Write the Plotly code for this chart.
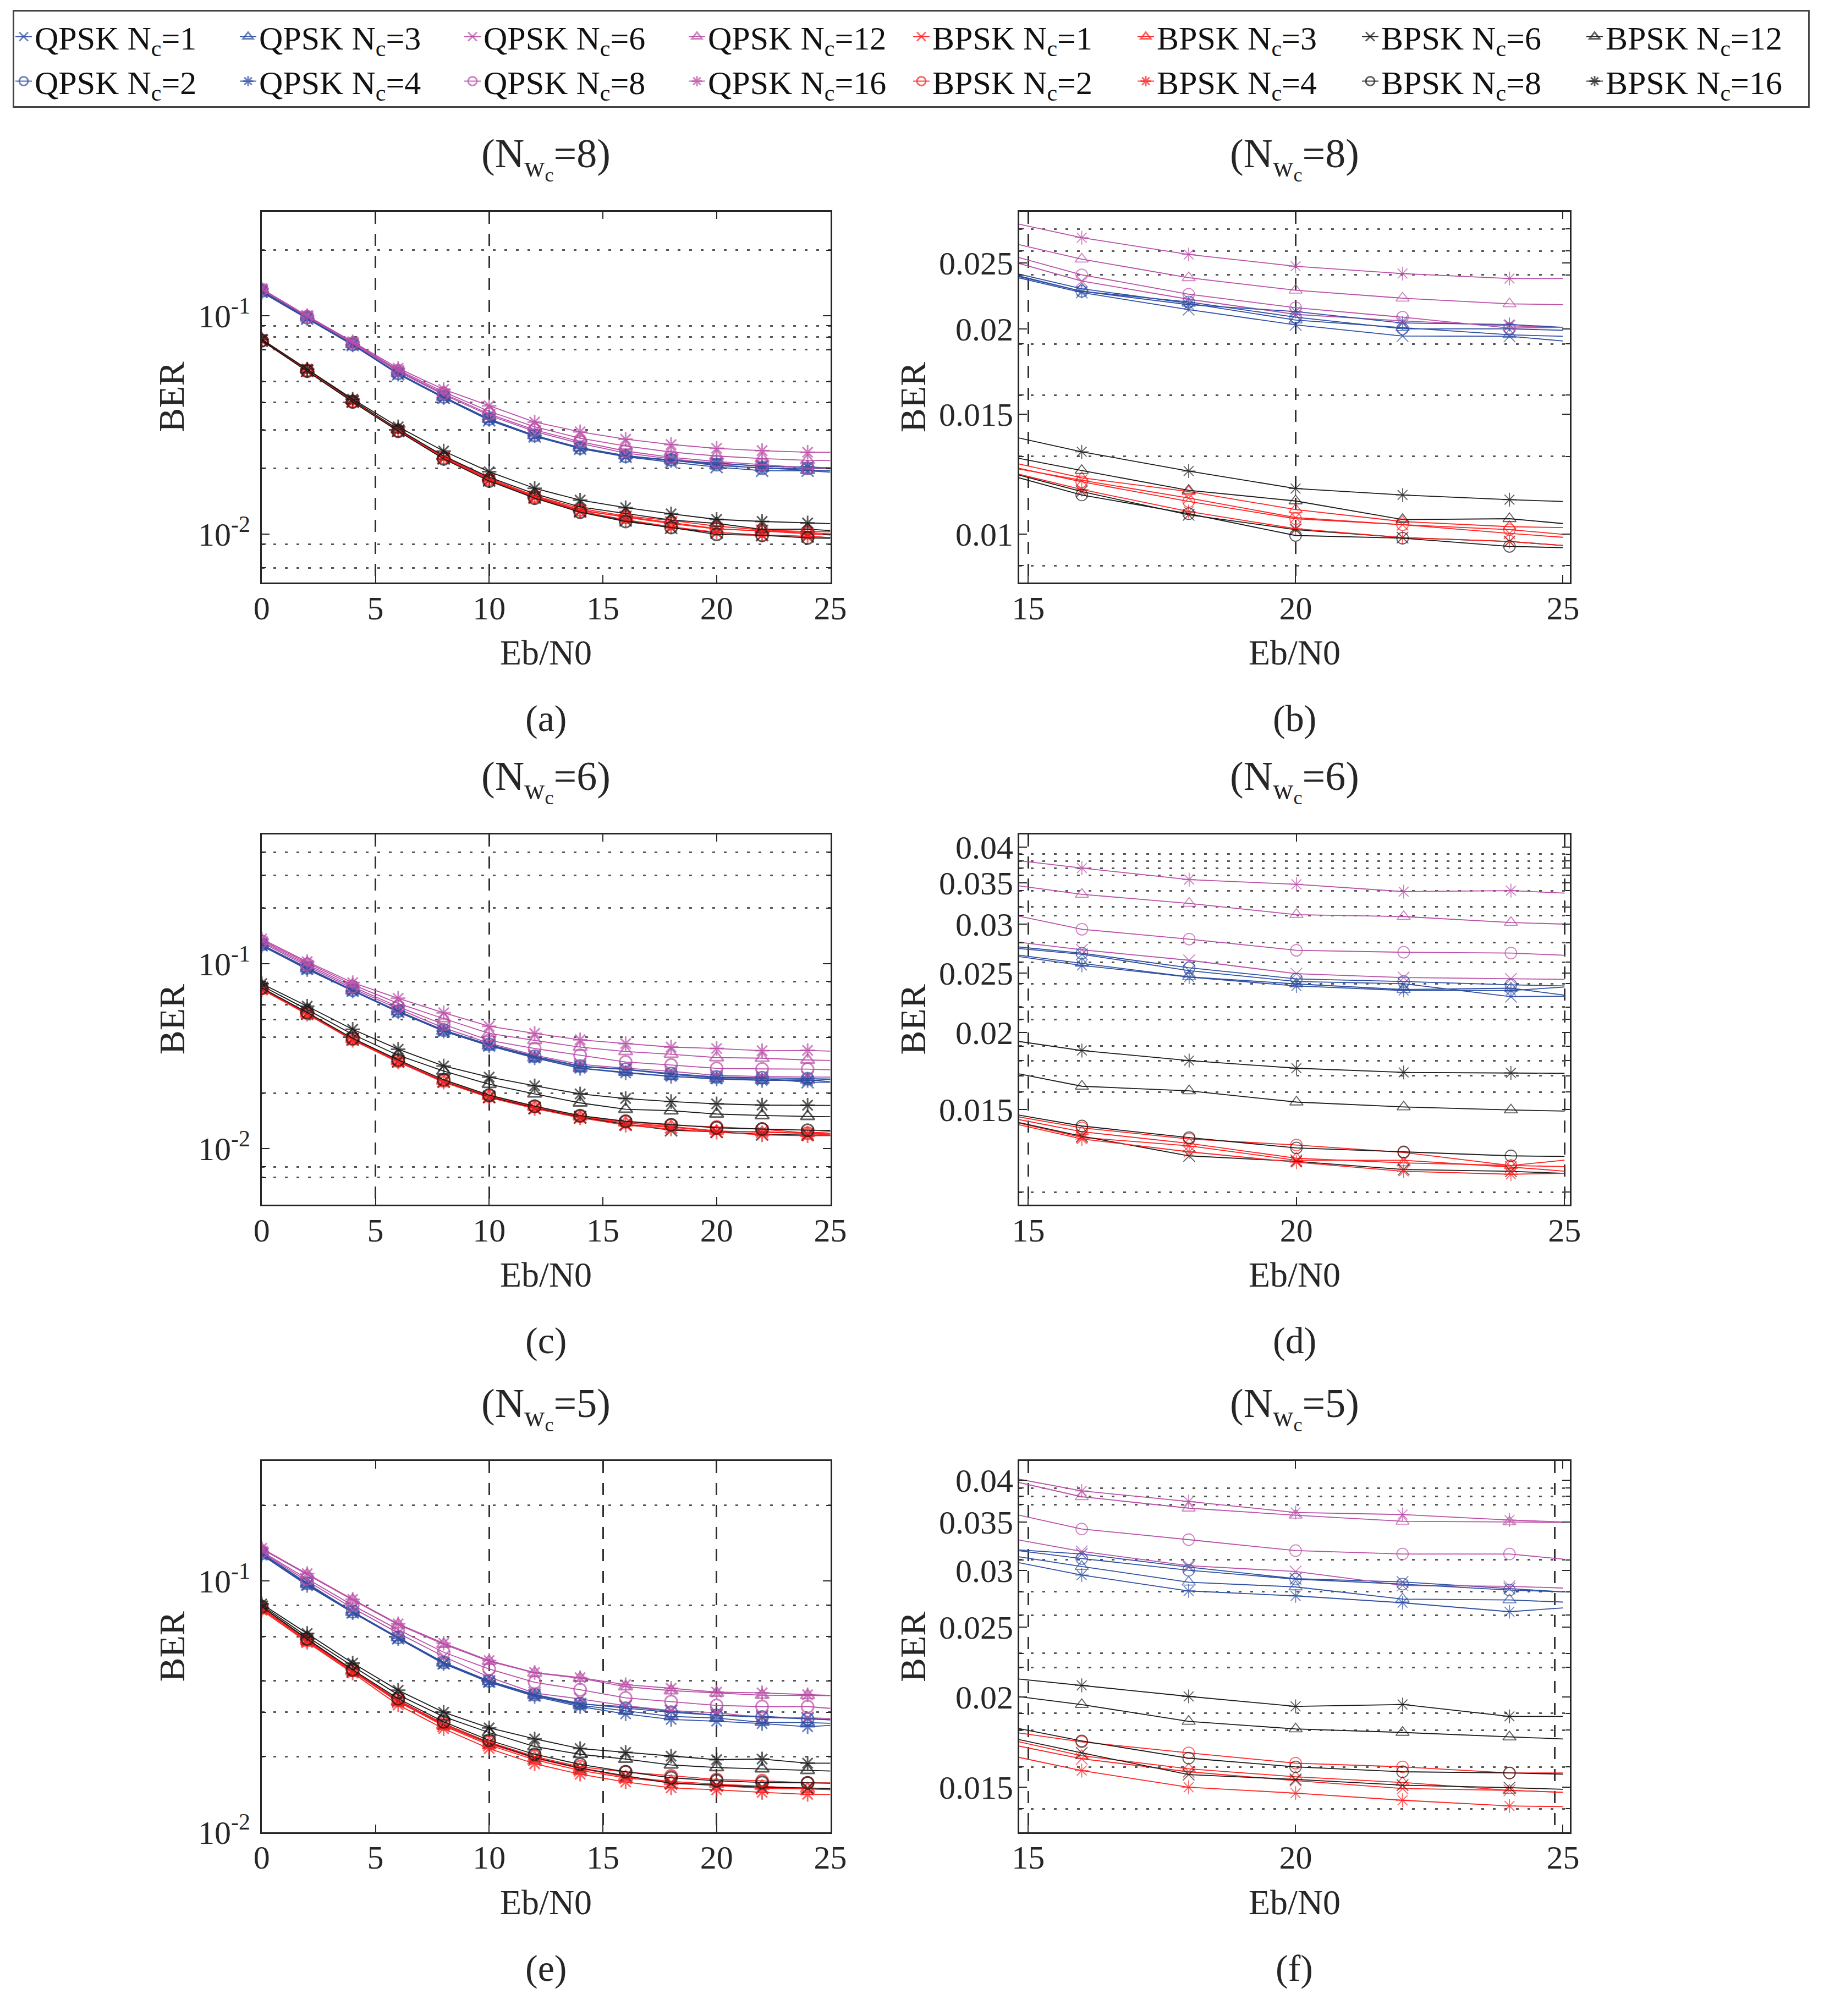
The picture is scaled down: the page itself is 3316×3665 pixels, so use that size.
import numpy as np
import plotly.graph_objects as go

W, H = 3316, 3665

# Eb/N0 points where markers sit, plus the end of the curves at 25 dB
ebn0 = [0, 2, 4, 6, 8, 10, 12, 14, 16, 18, 20, 22, 24]
ebn0_end = 25

# ---- N_wc = 8 ----
w8_q1 = [0.129, 0.097, 0.0735, 0.0540, 0.0420, 0.0332, 0.0280, 0.0246, 0.0226, 0.02134, 0.02027, 0.01952, 0.0195]
w8_q2 = [0.130, 0.098, 0.0740, 0.0545, 0.0425, 0.0337, 0.0283, 0.0248, 0.0227, 0.0219, 0.0208, 0.0200, 0.0200]
w8_q3 = [0.129, 0.098, 0.0740, 0.0545, 0.0424, 0.0336, 0.0283, 0.0249, 0.0229, 0.0218, 0.0206, 0.02008, 0.0196]
w8_q4 = [0.128, 0.097, 0.0735, 0.0540, 0.0421, 0.0335, 0.0282, 0.0247, 0.0227, 0.0217, 0.0212, 0.0204, 0.0203]
w8_q6 = [0.131, 0.099, 0.0745, 0.0555, 0.0435, 0.0350, 0.0295, 0.0260, 0.0235, 0.0221, 0.0210, 0.02054, 0.0202]
w8_q8 = [0.132, 0.099, 0.0750, 0.0560, 0.0440, 0.0355, 0.0300, 0.0265, 0.0240, 0.02248, 0.02148, 0.0208, 0.02005]
w8_q12 = [0.132, 0.100, 0.0755, 0.0565, 0.0448, 0.0365, 0.0310, 0.0275, 0.0253, 0.02376, 0.02278, 0.02218, 0.02176]
w8_q16 = [0.133, 0.100, 0.0760, 0.0575, 0.0460, 0.0387, 0.0326, 0.0294, 0.0272, 0.0257, 0.0247, 0.0241, 0.0237]
w8_b1 = [0.077, 0.0560, 0.0405, 0.0298, 0.0224, 0.0178, 0.0148, 0.0128, 0.0120, 0.0113, 0.01058, 0.01033, 0.01003]
w8_b2 = [0.077, 0.0562, 0.0406, 0.0298, 0.0224, 0.0178, 0.0149, 0.0129, 0.01194, 0.01117, 0.01054, 0.01033, 0.01016]
w8_b3 = [0.078, 0.0570, 0.0408, 0.0300, 0.0226, 0.0180, 0.0150, 0.0131, 0.0121, 0.01155, 0.01087, 0.01044, 0.01026]
w8_b4 = [0.077, 0.0558, 0.0404, 0.0297, 0.0222, 0.0176, 0.0147, 0.0127, 0.01163, 0.0108, 0.01019, 0.00989, 0.00976]
w8_b6 = [0.077, 0.0560, 0.0405, 0.0297, 0.0222, 0.0176, 0.0147, 0.0127, 0.01155, 0.01068, 0.01016, 0.00989, 0.00976]
w8_b8 = [0.077, 0.0558, 0.0403, 0.0296, 0.0221, 0.0175, 0.0146, 0.0126, 0.01142, 0.01072, 0.00996, 0.00987, 0.0096]
w8_b12 = [0.078, 0.0565, 0.0410, 0.0302, 0.0228, 0.0182, 0.0153, 0.0133, 0.0124, 0.0116, 0.01119, 0.01051, 0.01054]
w8_b16 = [0.078, 0.0570, 0.0415, 0.0310, 0.0240, 0.0193, 0.0162, 0.0143, 0.01321, 0.01238, 0.01167, 0.01142, 0.01124]
# curve ends at 25 dB, order Q1 Q2 Q3 Q4 Q6 Q8 Q12 Q16 B1 B2 B3 B4 B6 B8 B12 B16
w8_end = [0.0192, 0.0199, 0.0195, 0.0201, 0.0201, 0.0201, 0.0217, 0.0237,
          0.0099, 0.0100, 0.01023, 0.00963, 0.00963, 0.00956, 0.01037, 0.01117]

# ---- N_wc = 6 ----
w6_q1 = [0.126, 0.094, 0.0715, 0.0550, 0.0434, 0.0362, 0.0313, 0.0278, 0.0268, 0.0252, 0.0242, 0.0240, 0.02287]
w6_q2 = [0.127, 0.095, 0.0720, 0.0555, 0.0438, 0.0366, 0.0316, 0.0280, 0.0269, 0.02548, 0.02444, 0.0242, 0.0239]
w6_q3 = [0.125, 0.094, 0.0715, 0.0550, 0.0432, 0.0360, 0.0310, 0.0273, 0.0259, 0.02462, 0.02398, 0.02348, 0.0236]
w6_q4 = [0.125, 0.093, 0.0712, 0.0548, 0.0432, 0.0360, 0.0310, 0.0272, 0.0257, 0.0246, 0.0238, 0.0234, 0.0234]
w6_q6 = [0.130, 0.097, 0.0735, 0.0570, 0.0450, 0.0372, 0.0320, 0.0286, 0.02725, 0.0262, 0.02492, 0.02456, 0.02444]
w6_q8 = [0.132, 0.099, 0.0750, 0.0585, 0.0470, 0.0385, 0.0348, 0.0320, 0.02943, 0.02836, 0.0272, 0.0270, 0.02692]
w6_q12 = [0.134, 0.101, 0.0770, 0.0610, 0.0505, 0.0420, 0.0385, 0.0354, 0.03354, 0.03242, 0.03108, 0.03086, 0.03018]
w6_q16 = [0.136, 0.1025, 0.0790, 0.0650, 0.0543, 0.0459, 0.0420, 0.0388, 0.0370, 0.03544, 0.03482, 0.03388, 0.0340]
w6_b1 = [0.0730, 0.0535, 0.0388, 0.0296, 0.0230, 0.0190, 0.0166, 0.0148, 0.0135, 0.01308, 0.01239, 0.01239, 0.01208]
w6_b2 = [0.0735, 0.0540, 0.0391, 0.0298, 0.0233, 0.0193, 0.0169, 0.0150, 0.01399, 0.01342, 0.01312, 0.01276, 0.01215]
w6_b3 = [0.0730, 0.0537, 0.0390, 0.0297, 0.0232, 0.0192, 0.0168, 0.0149, 0.01379, 0.0132, 0.01249, 0.01227, 0.01215]
w6_b4 = [0.0725, 0.0533, 0.0386, 0.0294, 0.0229, 0.0189, 0.0165, 0.0147, 0.01342, 0.01279, 0.0123, 0.01189, 0.01176]
w6_b6 = [0.0740, 0.0540, 0.0392, 0.0298, 0.0232, 0.0191, 0.0166, 0.0148, 0.01356, 0.0126, 0.01234, 0.01197, 0.01189]
w6_b8 = [0.0740, 0.0545, 0.0395, 0.0302, 0.0236, 0.0195, 0.0170, 0.0151, 0.01409, 0.01349, 0.01298, 0.01279, 0.0126]
w6_b12 = [0.0760, 0.0565, 0.0415, 0.0320, 0.0263, 0.0223, 0.0198, 0.0177, 0.01635, 0.01607, 0.01541, 0.01513, 0.01496]
w6_b16 = [0.0780, 0.0589, 0.0442, 0.0345, 0.0280, 0.0244, 0.0219, 0.0198, 0.01869, 0.0180, 0.01749, 0.01722, 0.01719]
w6_end = [0.0229, 0.0238, 0.0230, 0.0237, 0.0244, 0.0267, 0.0300, 0.0337,
          0.0119, 0.0124, 0.0121, 0.0118, 0.0118, 0.01257, 0.0149, 0.01716]

# ---- N_wc = 5 ----
w5_q1 = [0.128, 0.097, 0.0750, 0.0592, 0.0470, 0.0398, 0.0351, 0.0323, 0.0316, 0.0303, 0.0292, 0.0289, 0.0283]
w5_q2 = [0.129, 0.098, 0.0755, 0.0596, 0.0474, 0.0400, 0.0353, 0.0325, 0.03114, 0.0300, 0.02916, 0.0287, 0.02816]
w5_q3 = [0.128, 0.097, 0.0752, 0.0595, 0.0472, 0.0398, 0.0350, 0.0320, 0.03036, 0.02888, 0.02844, 0.02736, 0.02728]
w5_q4 = [0.127, 0.096, 0.0748, 0.0590, 0.0468, 0.0395, 0.0347, 0.0316, 0.02954, 0.02808, 0.02764, 0.02704, 0.02628]
w5_q6 = [0.130, 0.100, 0.0780, 0.0620, 0.0500, 0.0414, 0.0358, 0.0339, 0.03186, 0.03044, 0.02988, 0.02858, 0.0285]
w5_q8 = [0.131, 0.102, 0.0800, 0.0640, 0.0520, 0.0446, 0.0395, 0.0369, 0.03422, 0.03308, 0.03194, 0.0316, 0.0316]
w5_q12 = [0.134, 0.106, 0.0840, 0.0670, 0.0560, 0.0479, 0.0430, 0.0410, 0.03794, 0.03658, 0.03576, 0.03508, 0.0350]
w5_q16 = [0.135, 0.107, 0.0845, 0.0675, 0.0565, 0.0482, 0.0432, 0.0412, 0.03865, 0.03737, 0.03608, 0.03584, 0.03522]
w5_b1 = [0.0775, 0.0575, 0.0435, 0.0330, 0.0265, 0.0222, 0.0194, 0.0176, 0.01643, 0.01576, 0.01532, 0.01494, 0.01485]
w5_b2 = [0.0780, 0.0580, 0.0440, 0.0335, 0.0270, 0.0228, 0.0200, 0.0182, 0.01734, 0.01674, 0.0162, 0.01601, 0.0157]
w5_b3 = [0.0775, 0.0577, 0.0437, 0.0332, 0.0267, 0.0225, 0.0197, 0.0179, 0.01659, 0.01591, 0.01551, 0.01523, 0.01485]
w5_b4 = [0.0765, 0.0570, 0.0430, 0.0321, 0.0258, 0.0215, 0.0187, 0.0170, 0.01582, 0.0150, 0.01472, 0.01439, 0.01413]
w5_b6 = [0.0790, 0.0585, 0.0440, 0.0335, 0.0270, 0.0227, 0.0198, 0.0180, 0.01674, 0.01562, 0.01538, 0.0151, 0.01498]
w5_b8 = [0.0790, 0.0588, 0.0443, 0.0340, 0.0275, 0.0232, 0.0204, 0.0186, 0.01739, 0.01646, 0.01601, 0.01576, 0.0157]
w5_b12 = [0.0800, 0.0600, 0.0458, 0.0352, 0.0288, 0.0249, 0.0219, 0.0204, 0.01953, 0.01851, 0.01807, 0.01787, 0.01761]
w5_b16 = [0.0810, 0.0618, 0.0471, 0.0367, 0.0300, 0.0260, 0.0235, 0.0215, 0.02077, 0.02005, 0.01942, 0.01954, 0.01881]
w5_end = [0.0280, 0.0280, 0.0271, 0.0266, 0.02834, 0.03109, 0.03494, 0.0350,
          0.01476, 0.0157, 0.01476, 0.0141, 0.0149, 0.01564, 0.0175, 0.01881]

nc_list = [1, 2, 3, 4, 6, 8, 12, 16]
sets = {
    8: [w8_q1, w8_q2, w8_q3, w8_q4, w8_q6, w8_q8, w8_q12, w8_q16,
        w8_b1, w8_b2, w8_b3, w8_b4, w8_b6, w8_b8, w8_b12, w8_b16],
    6: [w6_q1, w6_q2, w6_q3, w6_q4, w6_q6, w6_q8, w6_q12, w6_q16,
        w6_b1, w6_b2, w6_b3, w6_b4, w6_b6, w6_b8, w6_b12, w6_b16],
    5: [w5_q1, w5_q2, w5_q3, w5_q4, w5_q6, w5_q8, w5_q12, w5_q16,
        w5_b1, w5_b2, w5_b3, w5_b4, w5_b6, w5_b8, w5_b12, w5_b16],
}
ends = {8: w8_end, 6: w6_end, 5: w5_end}

BLUE, PINK, RED, BLACK = '#2f4fa2', '#b94fa7', '#ff2020', '#1a1a1a'
symbols = ['x-thin-open', 'circle-open', 'triangle-up-open', 'asterisk-open']
FONT = 'Liberation Serif'
TXT = '#262626'

# legend is filled row by row: first row Nc=1,3,6,12 ; second row Nc=2,4,8,16
legend_order = [0, 2, 4, 6, 8, 10, 12, 14, 1, 3, 5, 7, 9, 11, 13, 15]

cols_px = [(459, 1507), (1855, 2870)]
rows_px = [(373, 1055), (1518, 2199), (2671, 3353)]

panels = [
    dict(wc=8, row=0, col=0, letter='a', xr=[0, 25], xt=[0, 5, 10, 15, 20, 25], xgrid=[5, 10],
         yr=[0.006, 0.3], yt=[0.01, 0.1], ytt=['10<sup>-2</sup>', '10<sup>-1</sup>'],
         ydash=[0.01, 0.1], ydot=[0.007, 0.009, 0.02, 0.03, 0.04, 0.05, 0.07, 0.08, 0.09, 0.2]),
    dict(wc=8, row=0, col=1, letter='b', xr=[14.83, 25.13], xt=[15, 20, 25], xgrid=[15, 20],
         yr=[0.0085, 0.0297], yt=[0.01, 0.015, 0.02, 0.025], ytt=['0.01', '0.015', '0.02', '0.025'],
         ydash=[0.01, 0.015], ydot=[0.009, 0.013, 0.016, 0.019, 0.024, 0.026, 0.028]),
    dict(wc=6, row=1, col=0, letter='c', xr=[0, 25], xt=[0, 5, 10, 15, 20, 25], xgrid=[5, 10],
         yr=[0.005, 0.5], yt=[0.01, 0.1], ytt=['10<sup>-2</sup>', '10<sup>-1</sup>'],
         ydash=[0.01, 0.1], ydot=[0.007, 0.008, 0.02, 0.04, 0.05, 0.06, 0.08, 0.2, 0.3, 0.4]),
    dict(wc=6, row=1, col=1, letter='d', xr=[14.83, 25.1], xt=[15, 20, 25], xgrid=[15, 25],
         yr=[0.0105, 0.042], yt=[0.015, 0.02, 0.025, 0.03, 0.035, 0.04],
         ytt=['0.015', '0.02', '0.025', '0.03', '0.035', '0.04'],
         ydash=[0.015, 0.025, 0.035, 0.04],
         ydot=[0.011, 0.016, 0.017, 0.018, 0.019, 0.021, 0.022, 0.024, 0.026, 0.028,
               0.031, 0.032, 0.034, 0.036, 0.037, 0.038, 0.039]),
    dict(wc=5, row=2, col=0, letter='e', xr=[0, 25], xt=[0, 5, 10, 15, 20, 25], xgrid=[10, 15, 20],
         yr=[0.01, 0.3], yt=[0.01, 0.1], ytt=['10<sup>-2</sup>', '10<sup>-1</sup>'],
         ydash=[0.1], ydot=[0.02, 0.03, 0.04, 0.06, 0.08, 0.2]),
    dict(wc=5, row=2, col=1, letter='f', xr=[14.83, 25.13], xt=[15, 20, 25], xgrid=[15, 24.85],
         yr=[0.0130, 0.0425], yt=[0.015, 0.02, 0.025, 0.03, 0.035, 0.04],
         ytt=['0.015', '0.02', '0.025', '0.03', '0.035', '0.04'],
         ydash=[0.02, 0.025, 0.035, 0.04],
         ydot=[0.014, 0.016, 0.018, 0.019, 0.022, 0.023, 0.026, 0.028, 0.031, 0.037, 0.038, 0.039]),
]

fig = go.Figure()
layout = {}
annotations = []
n = len(panels)

for i, p in enumerate(panels):
    k = i + 1
    l, r = cols_px[p['col']]
    t, b = rows_px[p['row']]
    xdom = [l / W, r / W]
    ydom = [1 - b / H, 1 - t / H]
    left = p['col'] == 0
    ms = 22 if left else 21
    mlw = 3 if left else 1.8

    for j in legend_order:
        qpsk = j < 8
        nc = nc_list[j % 8]
        if qpsk:
            color = BLUE if nc <= 4 else PINK
        else:
            color = RED if nc <= 4 else BLACK
        name = ('QPSK' if qpsk else 'BPSK') + ' N<sub>c</sub>=%d' % nc
        yv = sets[p['wc']][j] + [ends[p['wc']][j]]
        fig.add_trace(go.Scatter(
            x=ebn0 + [ebn0_end], y=yv, mode='lines+markers', name=name,
            legendgroup=name, showlegend=(i == 0),
            xaxis='x%d' % k, yaxis='y%d' % k,
            line=dict(color=color, width=1.8),
            marker=dict(symbol=symbols[j % 4], size=[ms] * len(ebn0) + [0], color=color,
                        line=dict(color=color, width=mlw)),
        ))

    layout['xaxis%d' % k] = dict(
        domain=xdom, anchor='y%d' % k, range=p['xr'], tickmode='array', tickvals=p['xt'],
        showgrid=False, zeroline=False, showline=True, mirror='ticks', linecolor=TXT,
        linewidth=2.5, ticks='inside', ticklen=14, tickwidth=2, tickcolor=TXT,
        tickfont=dict(family=FONT, size=60, color=TXT), ticklabelstandoff=-8,
        minor=dict(tickmode='array', tickvals=p['xgrid'], showgrid=True, griddash='22px,18px',
                   gridcolor='#303030', gridwidth=2.5, ticks=''),
    )
    layout['yaxis%d' % k] = dict(
        domain=ydom, anchor='x%d' % k, type='log',
        range=[np.log10(p['yr'][0]), np.log10(p['yr'][1])],
        tickmode='array', tickvals=p['yt'], ticktext=p['ytt'],
        showgrid=False, zeroline=False, showline=True, mirror='ticks', linecolor=TXT,
        linewidth=2.5, ticks='inside', ticklen=14, tickwidth=2, tickcolor=TXT,
        tickfont=dict(family=FONT, size=60, color=TXT),
        ticklabelstandoff=6 if left else -4,
        minor=dict(tickmode='array', tickvals=p['ydot'], showgrid=True, griddash='5px,16px',
                   gridcolor='#555555', gridwidth=2.5, ticks='inside', ticklen=8,
                   tickcolor=TXT),
    )
    # overlaid axis just for the dashed horizontal lines
    layout['yaxis%d' % (k + n)] = dict(
        overlaying='y%d' % k, anchor='x%d' % k, type='log',
        range=[np.log10(p['yr'][0]), np.log10(p['yr'][1])],
        tickmode='array', tickvals=p['ydash'], showticklabels=False, ticks='',
        showgrid=True, griddash='22px,18px', gridcolor='#303030', gridwidth=2.5,
        showline=False, zeroline=False,
    )

    xc = (l + r) / 2 / W
    annotations.append(dict(
        text='(N<sub>w<sub>c</sub></sub>=%d)' % p['wc'], x=xc, y=1 - (t - 98) / H,
        xref='paper', yref='paper', xanchor='center', yanchor='middle', showarrow=False,
        font=dict(family=FONT, size=74, color=TXT)))
    annotations.append(dict(
        text='Eb/N0', x=xc, y=1 - (b + 129) / H, xref='paper', yref='paper',
        xanchor='center', yanchor='middle', showarrow=False,
        font=dict(family=FONT, size=64, color=TXT)))
    annotations.append(dict(
        text='(%s)' % p['letter'], x=xc, y=1 - (b + 250) / H, xref='paper', yref='paper',
        xanchor='center', yanchor='middle', showarrow=False,
        font=dict(family=FONT, size=68, color=TXT)))
    annotations.append(dict(
        text='BER', x=(l - (166 if left else 196)) / W, y=1 - (t + b) / 2 / H,
        xref='paper', yref='paper', xanchor='center', yanchor='middle', textangle=-90,
        showarrow=False, font=dict(family=FONT, size=66, color=TXT)))

fig.update_layout(
    width=W, height=H, autosize=False,
    margin=dict(l=0, r=0, t=0, b=0),
    paper_bgcolor='white', plot_bgcolor='white',
    font=dict(family=FONT, color=TXT),
    showlegend=True,
    legend=dict(orientation='h', x=0, y=1 - 2 / H, xanchor='left', yanchor='top',
                entrywidth=363, entrywidthmode='pixels', bordercolor='#444444', borderwidth=3,
                bgcolor='white', font=dict(family=FONT, size=60, color='#111111'),
                tracegroupgap=0, itemwidth=30),
    annotations=annotations,
    **layout,
)

fig.write_html("out.html")
